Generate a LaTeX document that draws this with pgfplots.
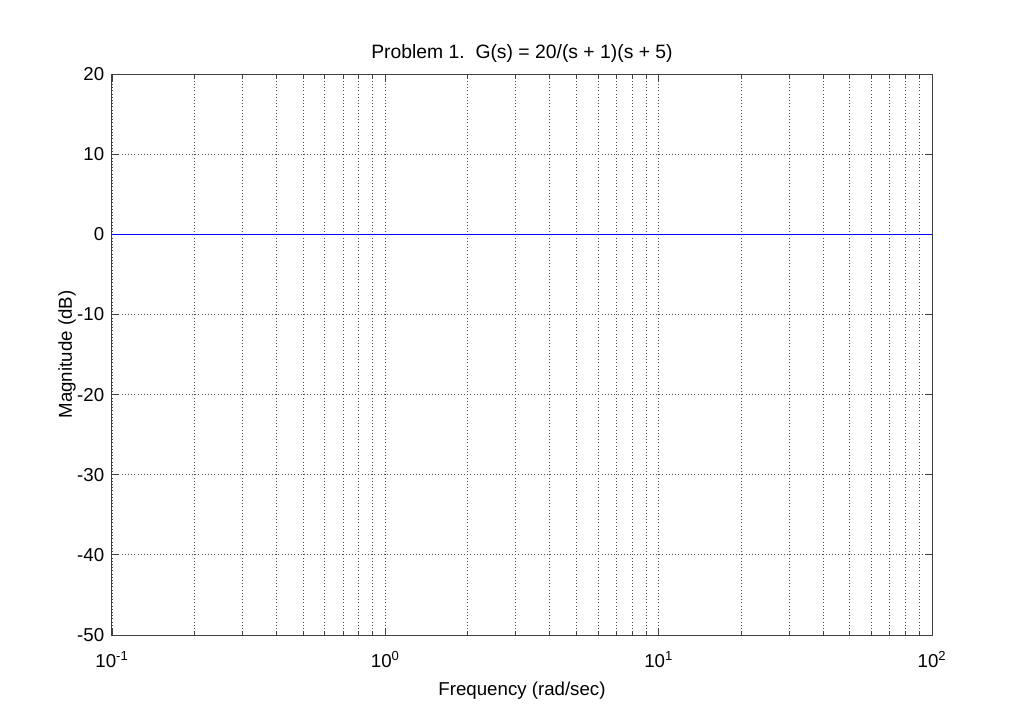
\documentclass[border=0pt]{standalone}
\usepackage{fontspec}
\setmainfont{Liberation Sans}
\usepackage{pgfplots}
\pgfplotsset{compat=1.18}
\usetikzlibrary{calc}

\begin{document}
\fontsize{14pt}{16pt}\selectfont
\begin{tikzpicture}
\path (0,0) rectangle (768pt,543.75pt);
\begin{axis}[at={(84pt,67.5pt)}, anchor=south west,
	scale only axis, width=615pt, height=420.75pt,
	xmode=log, xmin=0.1, xmax=100, ymin=-50, ymax=20,
	xtick={0.1,1,10,100},
	xticklabels={10\textsuperscript{-1},10\textsuperscript{0},10\textsuperscript{1},10\textsuperscript{2}},
	ytick={-50,-40,-30,-20,-10,0,10,20},
	yticklabels={-50,-40,-30,-20,-10,0,10,20},
	tick label style={font=\fontsize{14pt}{16pt}\selectfont},
	xticklabel style={anchor=base, yshift=-24pt},
	yticklabel style={xshift=-1pt},
	tick align=inside, major tick length=5pt, minor tick length=3pt,
	every tick/.style={black!75, line width=0.6pt},
	axis line style={black!75, line width=0.75pt},
	grid=both, xminorgrids=true, yminorgrids=false,
	major grid style={dotted, black!70, line width=0.6pt},
	minor grid style={dotted, black!70, line width=0.6pt},
	title={Problem 1.\ \ G(s) = 20/(s + 1)(s + 5)},
	title style={font=\fontsize{14.5pt}{16pt}\selectfont, at={(0.5,1)}, anchor=base, yshift=6pt},
	xlabel={Frequency (rad/sec)},
	xlabel style={at={(0.5,0)}, anchor=base, yshift=-45pt},
	ylabel={Magnitude (dB)},
	ylabel style={at={(0,0.5)}, anchor=base, rotate=0, yshift=30pt},
	]
	\addplot[blue, line width=0.75pt] coordinates {(0.1,0) (100,0)};
\end{axis}
\end{tikzpicture}
\end{document}
